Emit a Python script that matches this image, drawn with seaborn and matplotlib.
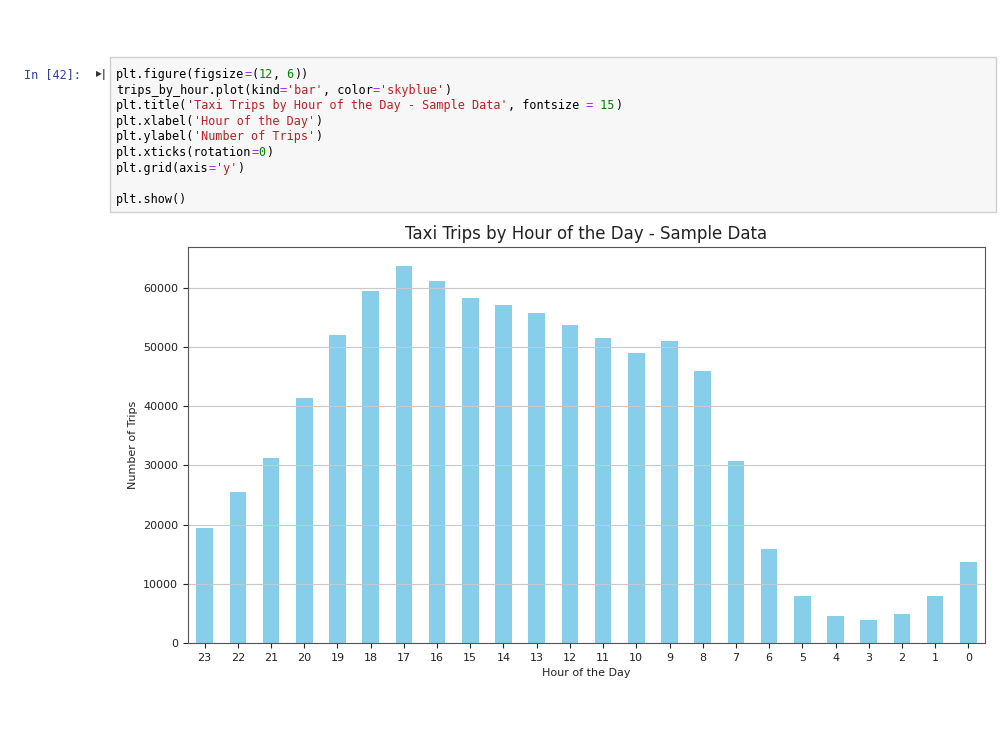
import matplotlib
matplotlib.use("Agg")
import matplotlib.pyplot as plt
import seaborn as sns
import pandas as pd
from matplotlib.patches import Rectangle
from matplotlib.text import Annotation

# values
hours = ["23", "22", "21", "20", "19", "18", "17", "16", "15", "14", "13", "12",
         "11", "10", "9", "8", "7", "6", "5", "4", "3", "2", "1", "0"]
trips = [19400, 25500, 31300, 41400, 52100, 59500, 63700, 61200, 58300, 57100, 55800, 53700,
         51500, 49000, 51000, 46000, 30800, 15900, 7900, 4600, 3900, 4900, 7900, 13700]

BLACK = "#000000"
RED = "#BA2121"
GREEN = "#008000"
PURPLE = "#AA22FF"

# the notebook cell above the chart, split into coloured tokens
code_lines = [
    [("plt.figure(figsize", BLACK), ("=", PURPLE), ("(", BLACK), ("12", GREEN), (",", BLACK), (" 6", GREEN), ("))", BLACK)],
    [("trips_by_hour.plot(kind", BLACK), ("=", PURPLE), ("'bar'", RED), (", color", BLACK), ("=", PURPLE), ("'skyblue'", RED), (")", BLACK)],
    [("plt.title(", BLACK), ("'Taxi Trips by Hour of the Day - Sample Data'", RED), (", fontsize", BLACK), (" =", PURPLE), (" 15", GREEN), (")", BLACK)],
    [("plt.xlabel(", BLACK), ("'Hour of the Day'", RED), (")", BLACK)],
    [("plt.ylabel(", BLACK), ("'Number of Trips'", RED), (")", BLACK)],
    [("plt.xticks(rotation", BLACK), ("=", PURPLE), ("0", GREEN), (")", BLACK)],
    [("plt.grid(axis", BLACK), ("=", PURPLE), ("'y'", RED), (")", BLACK)],
    [],
    [("plt.show()", BLACK)],
]

df = pd.DataFrame({"hour": hours, "trips": trips})

fig = plt.figure(figsize=(10, 7.5), dpi=100)
W, H = 1000, 750

# notebook cell
fig.add_artist(Rectangle((110 / W, 1 - 212 / H), 886 / W, 155 / H, transform=fig.transFigure,
                         facecolor="#f7f7f7", edgecolor="#cfcfcf", linewidth=1))
mono = "DejaVu Sans Mono"
fs = 8.45
fig.text(24 / W, 1 - 81 / H, "In [42]:", fontsize=fs, family=mono, color="#303F9F", va="bottom")
fig.text(96 / W, 1 - 74 / H, "▶", fontsize=5.5, color="#333333", va="center")
fig.text(102 / W, 1 - 74 / H, "|", fontsize=7, color="#333333", va="center", fontweight="bold")
for i, segs in enumerate(code_lines):
    y = 1 - (81 + i * 15.6) / H
    prev = None
    for txt, c in segs:
        if prev is None:
            prev = fig.text(116 / W, y, txt, fontsize=fs, family=mono, color=c, va="bottom")
        else:
            # chain each token to the right edge of the previous one
            prev = fig.add_artist(Annotation(txt, xy=(1, 0), xycoords=prev, va="bottom",
                                             fontsize=fs, family=mono, color=c))

# chart
ax = fig.add_axes([188 / W, 1 - 643 / H, 797 / W, 396 / H])
sns.barplot(data=df, x="hour", y="trips", order=hours, color="skyblue", saturation=1,
            width=0.5, linewidth=0, ax=ax)
ax.set_title("Taxi Trips by Hour of the Day - Sample Data", fontsize=12, color="#222222")
ax.set_xlabel("Hour of the Day", fontsize=8, color="#222222")
ax.set_ylabel("Number of Trips", fontsize=8, color="#222222")
ax.tick_params(labelsize=8, colors="#222222")
ax.tick_params(axis="x", rotation=0)
ax.grid(axis="y", color="#c8c8c8")
for s in ax.spines.values():
    s.set_color("#555555")

fig.savefig("out.png", dpi=100)
